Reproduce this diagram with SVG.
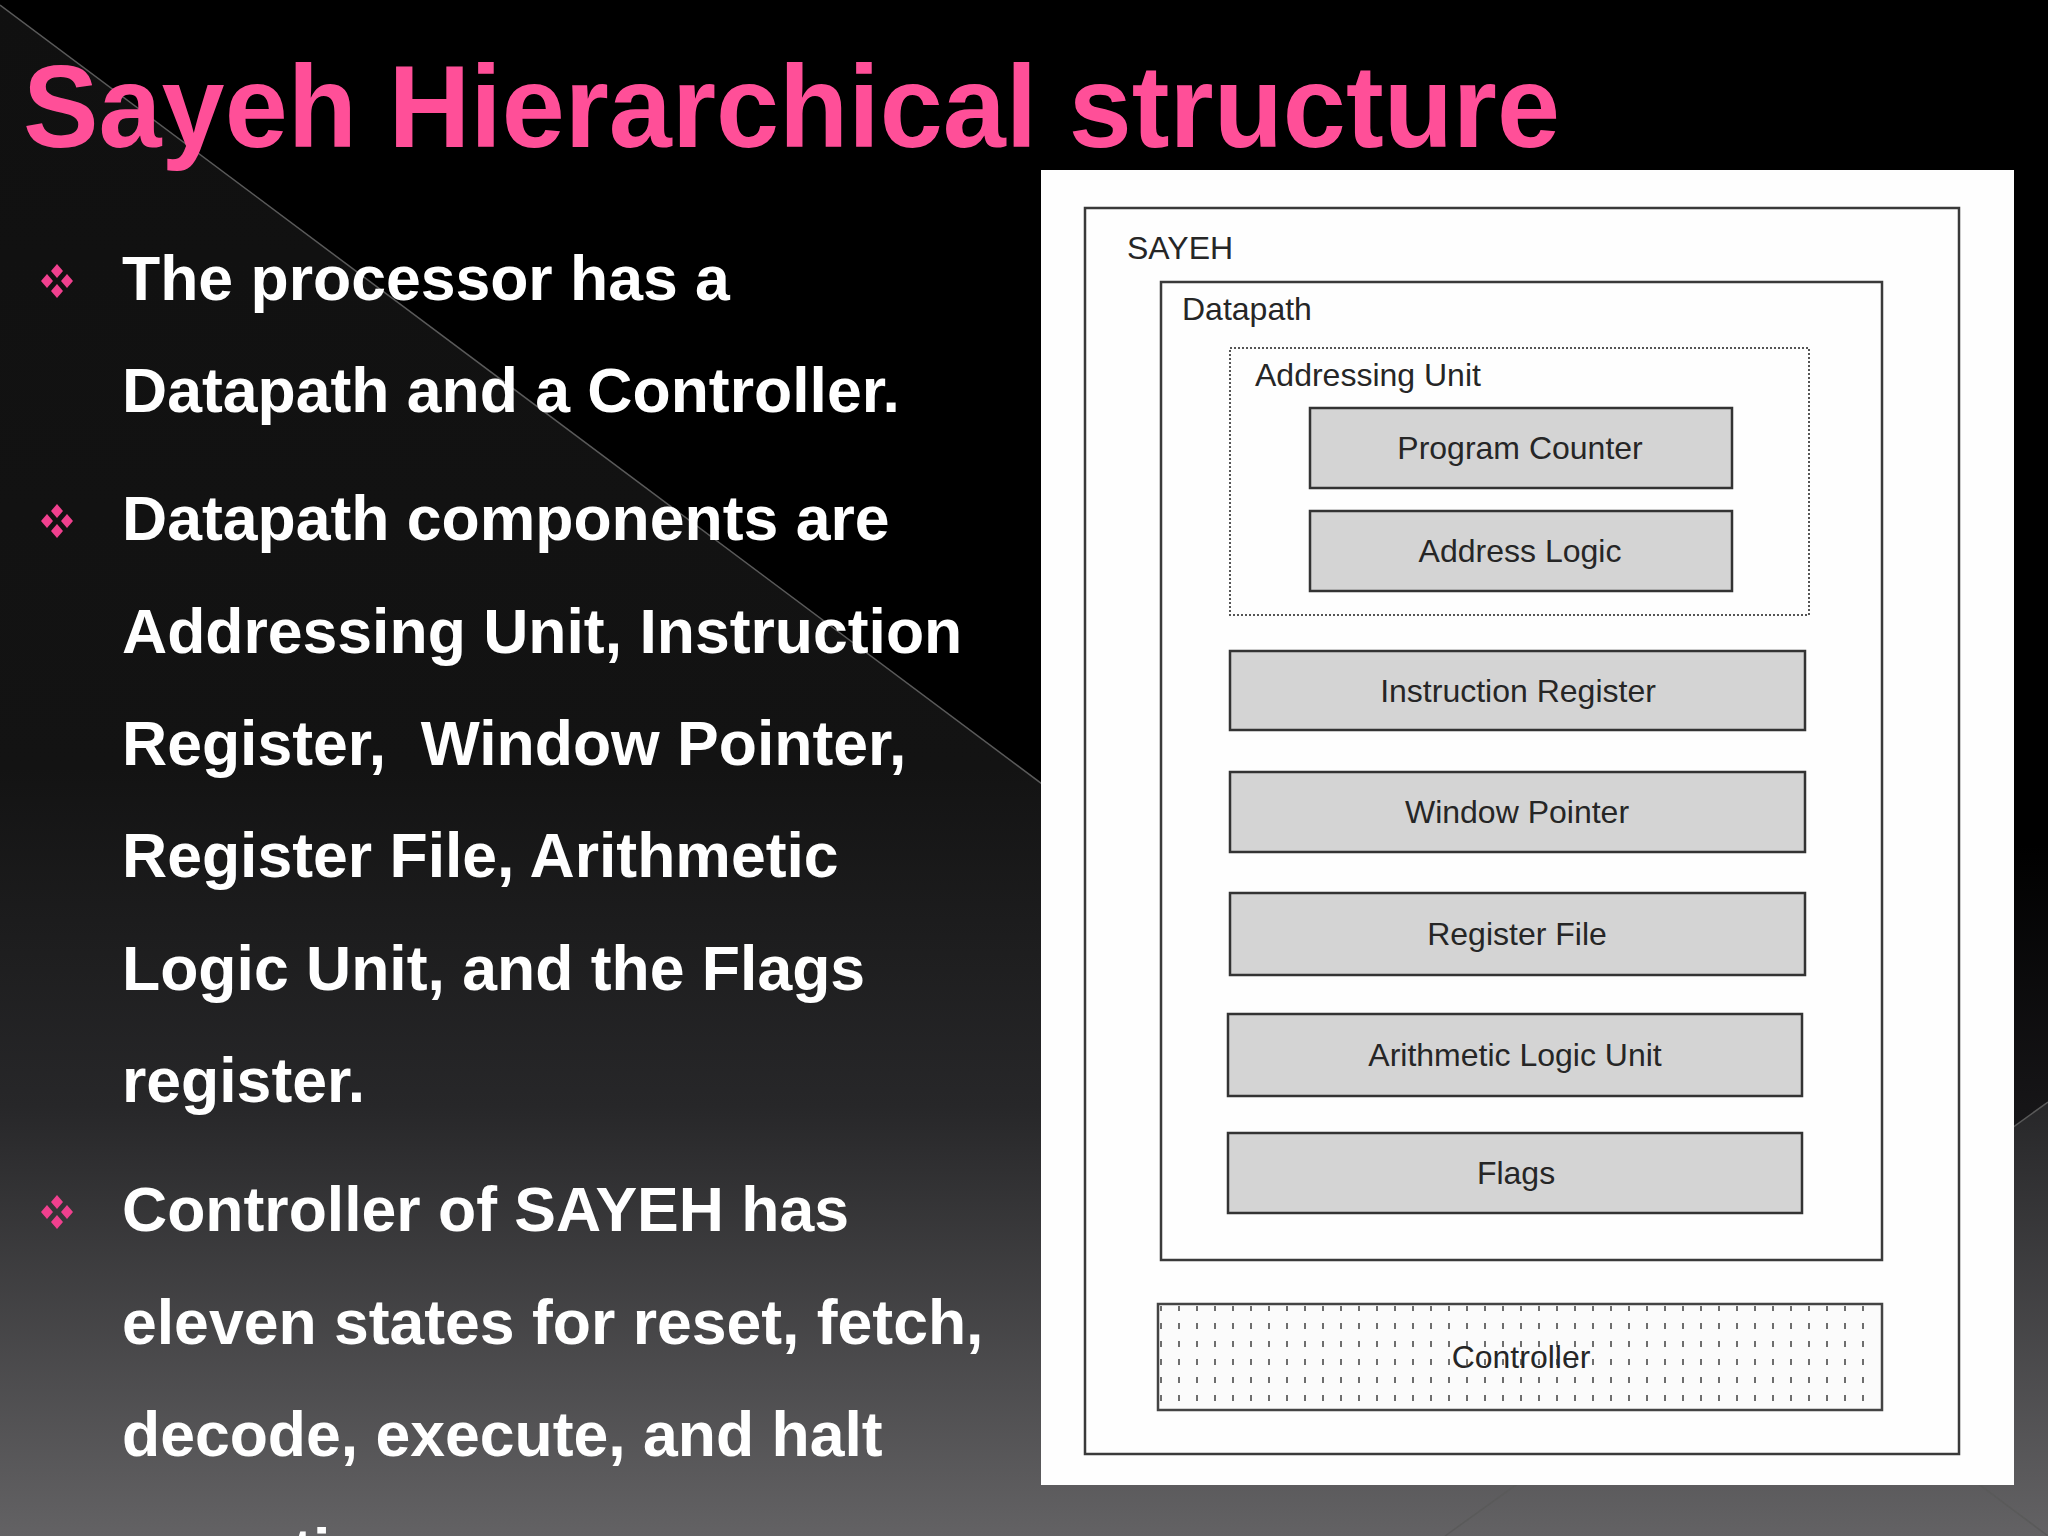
<svg xmlns="http://www.w3.org/2000/svg" width="2048" height="1536" viewBox="0 0 2048 1536">
  <defs>
    <linearGradient id="bgDark" x1="0" y1="0" x2="0" y2="1536" gradientUnits="userSpaceOnUse">
      <stop offset="0" stop-color="#000000"/>
      <stop offset="0.55" stop-color="#000000"/>
      <stop offset="0.72" stop-color="#161517"/>
      <stop offset="1" stop-color="#2c2b2d"/>
    </linearGradient>
    <linearGradient id="bgLight" x1="0" y1="0" x2="0" y2="1536" gradientUnits="userSpaceOnUse">
      <stop offset="0" stop-color="#101010"/>
      <stop offset="0.5" stop-color="#131313"/>
      <stop offset="0.72" stop-color="#272729"/>
      <stop offset="1" stop-color="#636264"/>
    </linearGradient>
    <pattern id="dots" x="1170" y="1318" width="18" height="18" patternUnits="userSpaceOnUse">
      <rect x="8" y="5" width="2" height="6" fill="#6e6e6e"/>
    </pattern>
    <g id="bullet">
      <polygon points="0,-17 6,-10 0,-3 -6,-10"/>
      <polygon points="0,3 6,10 0,17 -6,10"/>
      <polygon points="-10,-7 -4,0 -10,7 -16,0"/>
      <polygon points="10,-7 16,0 10,7 4,0"/>
    </g>
  </defs>
  <style>
    .title { font-family: "Liberation Sans", Arial, sans-serif; font-weight: bold; fill: #FF4F98; }
    .body { font-family: "Liberation Sans", Arial, sans-serif; font-weight: bold; font-size: 62.5px; fill: #ffffff; }
    .bul { fill: #F0408E; }
    .box { fill: #d4d4d4; stroke: #333333; stroke-width: 2.5; }
    .frame { fill: none; stroke: #3a3a3a; stroke-width: 2.5; }
    .dashed { fill: none; stroke: #555555; stroke-width: 2; stroke-dasharray: 2 2; }
    .lbl { font-family: "Liberation Sans", Arial, sans-serif; font-size: 32px; fill: #262626; }
    .mid { text-anchor: middle; }
    .bgline { stroke: #5a5a5a; stroke-width: 1.5; fill: none; }
  </style>

  <!-- background -->
  <rect x="0" y="0" width="2048" height="1536" fill="url(#bgDark)"/>
  <polygon points="0,5 2048,1536 0,1536" fill="url(#bgLight)"/>
  <polygon points="1445,1536 2048,1102 2048,1536" fill="url(#bgLight)"/>
  <line class="bgline" x1="0" y1="5" x2="2048" y2="1536"/>
  <line class="bgline" x1="1445" y1="1536" x2="2048" y2="1102"/>

  <!-- title -->
  <text class="title" x="23" y="147" font-size="116" textLength="1537" lengthAdjust="spacingAndGlyphs">Sayeh Hierarchical structure</text>

  <!-- bullet text -->
  <g id="bullets">
    <use href="#bullet" class="bul" x="57" y="281"/>
    <use href="#bullet" class="bul" x="57" y="521"/>
    <use href="#bullet" class="bul" x="57" y="1212"/>
    <text class="body" x="122" y="300">The processor has a</text>
    <text class="body" x="122" y="412">Datapath and a Controller.</text>
    <text class="body" x="122" y="540">Datapath components are</text>
    <text class="body" x="122" y="653">Addressing Unit, Instruction</text>
    <text class="body" x="122" y="765" xml:space="preserve">Register,  Window Pointer,</text>
    <text class="body" x="122" y="877">Register File, Arithmetic</text>
    <text class="body" x="122" y="990">Logic Unit, and the Flags</text>
    <text class="body" x="122" y="1102">register.</text>
    <text class="body" x="122" y="1231">Controller of SAYEH has</text>
    <text class="body" x="122" y="1344">eleven states for reset, fetch,</text>
    <text class="body" x="122" y="1456">decode, execute, and halt</text>
    <text class="body" x="122" y="1573">operations.</text>
  </g>

  <!-- diagram panel -->
  <rect x="1041" y="170" width="973" height="1315" fill="#fefefe"/>

  <g id="sayeh">
    <rect class="frame" x="1085" y="208" width="874" height="1246"/>
    <text class="lbl" x="1127" y="259">SAYEH</text>
  </g>
  <g id="datapath">
    <rect class="frame" x="1161" y="282" width="721" height="978"/>
    <text class="lbl" x="1182" y="320">Datapath</text>
  </g>
  <g id="addressing-unit">
    <rect class="dashed" x="1230" y="348" width="579" height="267"/>
    <text class="lbl" x="1255" y="386">Addressing Unit</text>
  </g>
  <g id="program-counter">
    <rect class="box" x="1310" y="408" width="422" height="80"/>
    <text class="lbl mid" x="1520" y="459">Program Counter</text>
  </g>
  <g id="address-logic">
    <rect class="box" x="1310" y="511" width="422" height="80"/>
    <text class="lbl mid" x="1520" y="562">Address Logic</text>
  </g>
  <g id="instruction-register">
    <rect class="box" x="1230" y="651" width="575" height="79"/>
    <text class="lbl mid" x="1518" y="702">Instruction Register</text>
  </g>
  <g id="window-pointer">
    <rect class="box" x="1230" y="772" width="575" height="80"/>
    <text class="lbl mid" x="1517" y="823">Window Pointer</text>
  </g>
  <g id="register-file">
    <rect class="box" x="1230" y="893" width="575" height="82"/>
    <text class="lbl mid" x="1517" y="945">Register File</text>
  </g>
  <g id="alu">
    <rect class="box" x="1228" y="1014" width="574" height="82"/>
    <text class="lbl mid" x="1515" y="1066">Arithmetic Logic Unit</text>
  </g>
  <g id="flags">
    <rect class="box" x="1228" y="1133" width="574" height="80"/>
    <text class="lbl mid" x="1516" y="1184">Flags</text>
  </g>
  <g id="controller">
    <rect x="1158" y="1304" width="724" height="106" fill="#fbfbfb"/>
    <rect x="1160" y="1306" width="720" height="102" fill="url(#dots)"/>
    <rect x="1158" y="1304" width="724" height="106" fill="none" stroke="#444444" stroke-width="2.5"/>
    <text class="lbl mid" x="1521" y="1368">Controller</text>
  </g>

  <g id="connectors"/>
</svg>
